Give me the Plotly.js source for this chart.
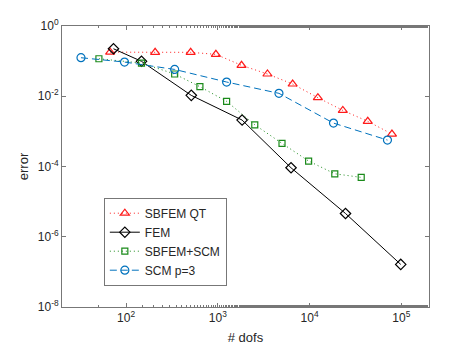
<!DOCTYPE html>
<html><head><meta charset="utf-8">
<script src="https://cdn.plot.ly/plotly-3.0.1.min.js"></script>
<style>html,body{margin:0;padding:0;background:#fff}#chart{width:474px;height:355px}</style>
</head><body><div id="chart"></div>
<script>
const qtDofs = [67, 207, 505, 951, 1811, 3470, 6530, 12300, 23000, 43000, 78900];
const qtErr  = [0.18, 0.178, 0.178, 0.156, 0.076, 0.043, 0.0223, 0.0091, 0.00396, 0.00193, 0.00084];
const femDofs = [72.8, 147, 513, 1836, 6270, 24600, 98400];
const femErr  = [0.225, 0.0987, 0.0106, 0.0021, 9.2e-5, 4.6e-6, 1.63e-7];
const scmDofs = [50.5, 147, 338, 637, 1245, 2524, 5000, 9750, 18800, 36500];
const scmErr  = [0.117, 0.088, 0.043, 0.0187, 0.00716, 0.00154, 0.000455, 0.000143, 6.2e-5, 4.9e-5];
const p3Dofs = [32.2, 96, 338, 1245, 4630, 18200, 70500];
const p3Err  = [0.125, 0.094, 0.058, 0.0254, 0.0121, 0.00172, 0.000565];
const xTickVals = [1e2, 1e3, 1e4, 1e5];
const xTickText = ['10<sup>2</sup>', '10<sup>3</sup>', '10<sup>4</sup>', '10<sup>5</sup>'];
const yTickVals = [1, 1e-2, 1e-4, 1e-6, 1e-8];
const yTickText = ['10<sup>0</sup>', '10<sup>-2</sup>', '10<sup>-4</sup>', '10<sup>-6</sup>', '10<sup>-8</sup>'];
const xTitle = '# dofs', yTitle = 'error';

const axCol = '#777';
const traces = [
  {x: qtDofs, y: qtErr, name: 'SBFEM QT', mode: 'lines+markers',
   line: {color: '#ff1a1a', width: 1, dash: '1px,3px'},
   marker: {symbol: 'triangle-up-open', size: 8, color: '#ff1a1a', line: {width: 1.2}}},
  {x: femDofs, y: femErr, name: 'FEM', mode: 'lines+markers',
   line: {color: '#000', width: 1},
   marker: {symbol: 'diamond-open', size: 8, color: '#000', line: {width: 1.2}}},
  {x: scmDofs, y: scmErr, name: 'SBFEM+SCM', mode: 'lines+markers',
   line: {color: '#1a8a1a', width: 1, dash: '1px,3px'},
   marker: {symbol: 'square-open', size: 6, color: '#1a8a1a', line: {width: 1.2}}},
  {x: p3Dofs, y: p3Err, name: 'SCM p=3', mode: 'lines+markers',
   line: {color: '#0072BD', width: 1, dash: '7px,4px'},
   marker: {symbol: 'circle-open', size: 8, color: '#0072BD', line: {width: 1.2}}}
];
const layout = {
  width: 474, height: 355,
  margin: {l: 62, r: 45, t: 26, b: 48},
  paper_bgcolor: '#fff', plot_bgcolor: '#fff',
  font: {family: 'Liberation Sans, Arial, sans-serif', size: 12, color: '#262626'},
  showlegend: true,
  legend: {x: 0.114, y: 0.389, xanchor: 'left', yanchor: 'top',
           bgcolor: '#fff', bordercolor: axCol, borderwidth: 1,
           font: {size: 12, color: '#262626'}, tracegroupgap: 0},
  xaxis: {type: 'log', range: [Math.log10(20), Math.log10(2e5)],
          tickmode: 'array', tickvals: xTickVals, ticktext: xTickText,
          showgrid: false, zeroline: false,
          showline: true, mirror: 'ticks', linecolor: axCol, linewidth: 1,
          ticks: 'inside', ticklen: 4, tickcolor: axCol,
          minor: {ticks: 'inside', ticklen: 2, tickcolor: axCol, showgrid: false},
          tickfont: {size: 12, color: '#262626'},
          title: {text: xTitle, font: {size: 13, color: '#262626'}, standoff: 8}},
  yaxis: {type: 'log', range: [-8, 0],
          tickmode: 'array', tickvals: yTickVals, ticktext: yTickText,
          showgrid: false, zeroline: false,
          showline: true, mirror: 'ticks', linecolor: axCol, linewidth: 1,
          ticks: 'inside', ticklen: 4, tickcolor: axCol,
          tickfont: {size: 12, color: '#262626'},
          title: {text: yTitle, font: {size: 13, color: '#262626'}, standoff: 6}}
};
Plotly.newPlot('chart', traces, layout, {staticPlot: true, displayModeBar: false});
</script></body></html>
